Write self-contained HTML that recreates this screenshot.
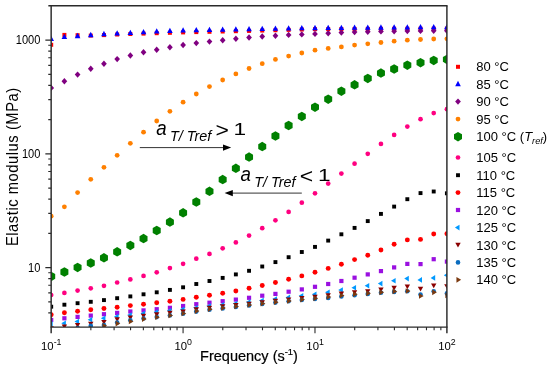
<!DOCTYPE html>
<html><head><meta charset="utf-8"><title>Elastic modulus vs frequency</title>
<style>
html,body{margin:0;padding:0;background:#fff;}
svg{display:block;}
text{font-family:"Liberation Sans",sans-serif;fill:#000;}
.tk{font-size:11.3px;}
.sup{font-size:8.8px;}
.lg{font-size:13px;}
.ax{font-size:13.6px;}
.an{font-style:italic;}
</style></head><body>
<svg width="550" height="369" viewBox="0 0 550 369">
<rect width="550" height="369" fill="#fff"/>
<defs><clipPath id="pc"><rect x="51.15" y="5.7" width="395.75" height="321.4"/></clipPath></defs>

<g clip-path="url(#pc)">
<g>
<rect x="49.2" y="42.8" width="4" height="4" fill="#ff0000"/>
<rect x="62.39" y="32.9" width="4" height="4" fill="#ff0000"/>
<rect x="75.58" y="33.2" width="4" height="4" fill="#ff0000"/>
<rect x="88.77" y="33.6" width="4" height="4" fill="#ff0000"/>
<rect x="101.96" y="33.1" width="4" height="4" fill="#ff0000"/>
<rect x="115.15" y="32.5" width="4" height="4" fill="#ff0000"/>
<rect x="128.34" y="32" width="4" height="4" fill="#ff0000"/>
<rect x="141.53" y="31.6" width="4" height="4" fill="#ff0000"/>
<rect x="154.72" y="31.2" width="4" height="4" fill="#ff0000"/>
<rect x="167.91" y="30.8" width="4" height="4" fill="#ff0000"/>
<rect x="181.1" y="30.4" width="4" height="4" fill="#ff0000"/>
<rect x="194.29" y="30.1" width="4" height="4" fill="#ff0000"/>
<rect x="207.48" y="29.8" width="4" height="4" fill="#ff0000"/>
<rect x="220.67" y="29.5" width="4" height="4" fill="#ff0000"/>
<rect x="233.86" y="29.2" width="4" height="4" fill="#ff0000"/>
<rect x="247.05" y="28.9" width="4" height="4" fill="#ff0000"/>
<rect x="260.24" y="28.56" width="4" height="4" fill="#ff0000"/>
<rect x="273.43" y="28.22" width="4" height="4" fill="#ff0000"/>
<rect x="286.62" y="27.88" width="4" height="4" fill="#ff0000"/>
<rect x="299.81" y="27.54" width="4" height="4" fill="#ff0000"/>
<rect x="313" y="27.2" width="4" height="4" fill="#ff0000"/>
<rect x="326.19" y="27.12" width="4" height="4" fill="#ff0000"/>
<rect x="339.38" y="27.04" width="4" height="4" fill="#ff0000"/>
<rect x="352.57" y="26.96" width="4" height="4" fill="#ff0000"/>
<rect x="365.76" y="26.88" width="4" height="4" fill="#ff0000"/>
<rect x="378.95" y="26.8" width="4" height="4" fill="#ff0000"/>
<rect x="392.14" y="26.76" width="4" height="4" fill="#ff0000"/>
<rect x="405.33" y="26.72" width="4" height="4" fill="#ff0000"/>
<rect x="418.52" y="26.68" width="4" height="4" fill="#ff0000"/>
<rect x="431.71" y="26.64" width="4" height="4" fill="#ff0000"/>
<rect x="444.9" y="26.6" width="4" height="4" fill="#ff0000"/>
</g>
<g>
<polygon points="51.2,84.7 54.05,87.9 51.2,91.1 48.35,87.9" fill="#800080"/>
<polygon points="64.39,78 67.24,81.2 64.39,84.4 61.54,81.2" fill="#800080"/>
<polygon points="77.58,71.4 80.43,74.6 77.58,77.8 74.73,74.6" fill="#800080"/>
<polygon points="90.77,65.6 93.62,68.8 90.77,72 87.92,68.8" fill="#800080"/>
<polygon points="103.96,60.5 106.81,63.7 103.96,66.9 101.11,63.7" fill="#800080"/>
<polygon points="117.15,55.9 120,59.1 117.15,62.3 114.3,59.1" fill="#800080"/>
<polygon points="130.34,52.3 133.19,55.5 130.34,58.7 127.49,55.5" fill="#800080"/>
<polygon points="143.53,49 146.38,52.2 143.53,55.4 140.68,52.2" fill="#800080"/>
<polygon points="156.72,46.5 159.57,49.7 156.72,52.9 153.87,49.7" fill="#800080"/>
<polygon points="169.91,44 172.76,47.2 169.91,50.4 167.06,47.2" fill="#800080"/>
<polygon points="183.1,41.8 185.95,45 183.1,48.2 180.25,45" fill="#800080"/>
<polygon points="196.29,39.9 199.14,43.1 196.29,46.3 193.44,43.1" fill="#800080"/>
<polygon points="209.48,38.4 212.33,41.6 209.48,44.8 206.63,41.6" fill="#800080"/>
<polygon points="222.67,37.1 225.52,40.3 222.67,43.5 219.82,40.3" fill="#800080"/>
<polygon points="235.86,35.6 238.71,38.8 235.86,42 233.01,38.8" fill="#800080"/>
<polygon points="249.05,34.3 251.9,37.5 249.05,40.7 246.2,37.5" fill="#800080"/>
<polygon points="262.24,33.3 265.09,36.5 262.24,39.7 259.39,36.5" fill="#800080"/>
<polygon points="275.43,32.5 278.28,35.7 275.43,38.9 272.58,35.7" fill="#800080"/>
<polygon points="288.62,31.7 291.47,34.9 288.62,38.1 285.77,34.9" fill="#800080"/>
<polygon points="301.81,31.2 304.66,34.4 301.81,37.6 298.96,34.4" fill="#800080"/>
<polygon points="315,30.7 317.85,33.9 315,37.1 312.15,33.9" fill="#800080"/>
<polygon points="328.19,30 331.04,33.2 328.19,36.4 325.34,33.2" fill="#800080"/>
<polygon points="341.38,29.4 344.23,32.6 341.38,35.8 338.53,32.6" fill="#800080"/>
<polygon points="354.57,28.9 357.42,32.1 354.57,35.3 351.72,32.1" fill="#800080"/>
<polygon points="367.76,28.5 370.61,31.7 367.76,34.9 364.91,31.7" fill="#800080"/>
<polygon points="380.95,28.2 383.8,31.4 380.95,34.6 378.1,31.4" fill="#800080"/>
<polygon points="394.14,28 396.99,31.2 394.14,34.4 391.29,31.2" fill="#800080"/>
<polygon points="407.33,27.8 410.18,31 407.33,34.2 404.48,31" fill="#800080"/>
<polygon points="420.52,27.7 423.37,30.9 420.52,34.1 417.67,30.9" fill="#800080"/>
<polygon points="433.71,27.6 436.56,30.8 433.71,34 430.86,30.8" fill="#800080"/>
<polygon points="446.9,27.5 449.75,30.7 446.9,33.9 444.05,30.7" fill="#800080"/>
</g>
<g>
<polygon points="48.4,40.95 54,40.95 51.2,35.65" fill="#0000ff"/>
<polygon points="61.59,39.05 67.19,39.05 64.39,33.75" fill="#0000ff"/>
<polygon points="74.78,38.15 80.38,38.15 77.58,32.85" fill="#0000ff"/>
<polygon points="87.97,37.15 93.57,37.15 90.77,31.85" fill="#0000ff"/>
<polygon points="101.16,36.15 106.76,36.15 103.96,30.85" fill="#0000ff"/>
<polygon points="114.35,35.45 119.95,35.45 117.15,30.15" fill="#0000ff"/>
<polygon points="127.54,34.95 133.14,34.95 130.34,29.65" fill="#0000ff"/>
<polygon points="140.73,34.25 146.33,34.25 143.53,28.95" fill="#0000ff"/>
<polygon points="153.92,33.55 159.52,33.55 156.72,28.25" fill="#0000ff"/>
<polygon points="167.11,33.05 172.71,33.05 169.91,27.75" fill="#0000ff"/>
<polygon points="180.3,32.45 185.9,32.45 183.1,27.15" fill="#0000ff"/>
<polygon points="193.49,32.25 199.09,32.25 196.29,26.95" fill="#0000ff"/>
<polygon points="206.68,31.95 212.28,31.95 209.48,26.65" fill="#0000ff"/>
<polygon points="219.87,31.75 225.47,31.75 222.67,26.45" fill="#0000ff"/>
<polygon points="233.06,31.45 238.66,31.45 235.86,26.15" fill="#0000ff"/>
<polygon points="246.25,31.25 251.85,31.25 249.05,25.95" fill="#0000ff"/>
<polygon points="259.44,30.95 265.04,30.95 262.24,25.65" fill="#0000ff"/>
<polygon points="272.63,30.75 278.23,30.75 275.43,25.45" fill="#0000ff"/>
<polygon points="285.82,30.45 291.42,30.45 288.62,25.15" fill="#0000ff"/>
<polygon points="299.01,30.35 304.61,30.35 301.81,25.05" fill="#0000ff"/>
<polygon points="312.2,30.15 317.8,30.15 315,24.85" fill="#0000ff"/>
<polygon points="325.39,30.05 330.99,30.05 328.19,24.75" fill="#0000ff"/>
<polygon points="338.58,29.95 344.18,29.95 341.38,24.65" fill="#0000ff"/>
<polygon points="351.77,29.85 357.37,29.85 354.57,24.55" fill="#0000ff"/>
<polygon points="364.96,29.75 370.56,29.75 367.76,24.45" fill="#0000ff"/>
<polygon points="378.15,29.65 383.75,29.65 380.95,24.35" fill="#0000ff"/>
<polygon points="391.34,29.55 396.94,29.55 394.14,24.25" fill="#0000ff"/>
<polygon points="404.53,29.45 410.13,29.45 407.33,24.15" fill="#0000ff"/>
<polygon points="417.72,29.35 423.32,29.35 420.52,24.05" fill="#0000ff"/>
<polygon points="430.91,29.35 436.51,29.35 433.71,24.05" fill="#0000ff"/>
<polygon points="444.1,29.25 449.7,29.25 446.9,23.95" fill="#0000ff"/>
</g>
<g>
<circle cx="51.2" cy="216.2" r="2.4" fill="#ff8000"/>
<circle cx="64.39" cy="206.8" r="2.4" fill="#ff8000"/>
<circle cx="77.58" cy="192.6" r="2.4" fill="#ff8000"/>
<circle cx="90.77" cy="179.3" r="2.4" fill="#ff8000"/>
<circle cx="103.96" cy="167.3" r="2.4" fill="#ff8000"/>
<circle cx="117.15" cy="155.3" r="2.4" fill="#ff8000"/>
<circle cx="130.34" cy="143.3" r="2.4" fill="#ff8000"/>
<circle cx="143.53" cy="132.2" r="2.4" fill="#ff8000"/>
<circle cx="156.72" cy="121" r="2.4" fill="#ff8000"/>
<circle cx="169.91" cy="111.3" r="2.4" fill="#ff8000"/>
<circle cx="183.1" cy="102.2" r="2.4" fill="#ff8000"/>
<circle cx="196.29" cy="94" r="2.4" fill="#ff8000"/>
<circle cx="209.48" cy="86.6" r="2.4" fill="#ff8000"/>
<circle cx="222.67" cy="80" r="2.4" fill="#ff8000"/>
<circle cx="235.86" cy="73.9" r="2.4" fill="#ff8000"/>
<circle cx="249.05" cy="68.5" r="2.4" fill="#ff8000"/>
<circle cx="262.24" cy="63.7" r="2.4" fill="#ff8000"/>
<circle cx="275.43" cy="59.4" r="2.4" fill="#ff8000"/>
<circle cx="288.62" cy="56.1" r="2.4" fill="#ff8000"/>
<circle cx="301.81" cy="53" r="2.4" fill="#ff8000"/>
<circle cx="315" cy="50.2" r="2.4" fill="#ff8000"/>
<circle cx="328.19" cy="48.4" r="2.4" fill="#ff8000"/>
<circle cx="341.38" cy="46.9" r="2.4" fill="#ff8000"/>
<circle cx="354.57" cy="45.1" r="2.4" fill="#ff8000"/>
<circle cx="367.76" cy="43.8" r="2.4" fill="#ff8000"/>
<circle cx="380.95" cy="42.5" r="2.4" fill="#ff8000"/>
<circle cx="394.14" cy="41.2" r="2.4" fill="#ff8000"/>
<circle cx="407.33" cy="40.2" r="2.4" fill="#ff8000"/>
<circle cx="420.52" cy="39.5" r="2.4" fill="#ff8000"/>
<circle cx="433.71" cy="39" r="2.4" fill="#ff8000"/>
<circle cx="446.9" cy="38.8" r="2.4" fill="#ff8000"/>
</g>
<g>
<polygon points="51.2,271.65 55.2,274.02 55.2,278.77 51.2,281.15 47.2,278.77 47.2,274.02" fill="#008000"/>
<polygon points="64.39,267.25 68.39,269.62 68.39,274.38 64.39,276.75 60.39,274.38 60.39,269.62" fill="#008000"/>
<polygon points="77.58,262.65 81.58,265.02 81.58,269.77 77.58,272.15 73.58,269.77 73.58,265.02" fill="#008000"/>
<polygon points="90.77,258.25 94.77,260.62 94.77,265.38 90.77,267.75 86.77,265.38 86.77,260.62" fill="#008000"/>
<polygon points="103.96,253.05 107.96,255.43 107.96,260.18 103.96,262.55 99.96,260.18 99.96,255.43" fill="#008000"/>
<polygon points="117.15,247.05 121.15,249.43 121.15,254.18 117.15,256.55 113.15,254.18 113.15,249.43" fill="#008000"/>
<polygon points="130.34,240.65 134.34,243.03 134.34,247.78 130.34,250.15 126.34,247.78 126.34,243.03" fill="#008000"/>
<polygon points="143.53,233.85 147.53,236.22 147.53,240.97 143.53,243.35 139.53,240.97 139.53,236.22" fill="#008000"/>
<polygon points="156.72,225.75 160.72,228.12 160.72,232.88 156.72,235.25 152.72,232.88 152.72,228.12" fill="#008000"/>
<polygon points="169.91,217.35 173.91,219.72 173.91,224.47 169.91,226.85 165.91,224.47 165.91,219.72" fill="#008000"/>
<polygon points="183.1,208.05 187.1,210.43 187.1,215.18 183.1,217.55 179.1,215.18 179.1,210.43" fill="#008000"/>
<polygon points="196.29,197.25 200.29,199.62 200.29,204.38 196.29,206.75 192.29,204.38 192.29,199.62" fill="#008000"/>
<polygon points="209.48,186.55 213.48,188.93 213.48,193.68 209.48,196.05 205.48,193.68 205.48,188.93" fill="#008000"/>
<polygon points="222.67,174.85 226.67,177.22 226.67,181.97 222.67,184.35 218.67,181.97 218.67,177.22" fill="#008000"/>
<polygon points="235.86,163.55 239.86,165.93 239.86,170.68 235.86,173.05 231.86,170.68 231.86,165.93" fill="#008000"/>
<polygon points="249.05,152.35 253.05,154.72 253.05,159.47 249.05,161.85 245.05,159.47 245.05,154.72" fill="#008000"/>
<polygon points="262.24,141.85 266.24,144.22 266.24,148.97 262.24,151.35 258.24,148.97 258.24,144.22" fill="#008000"/>
<polygon points="275.43,131.25 279.43,133.62 279.43,138.38 275.43,140.75 271.43,138.38 271.43,133.62" fill="#008000"/>
<polygon points="288.62,120.75 292.62,123.12 292.62,127.88 288.62,130.25 284.62,127.88 284.62,123.12" fill="#008000"/>
<polygon points="301.81,111.65 305.81,114.03 305.81,118.78 301.81,121.15 297.81,118.78 297.81,114.03" fill="#008000"/>
<polygon points="315,102.45 319,104.83 319,109.58 315,111.95 311,109.58 311,104.83" fill="#008000"/>
<polygon points="328.19,94.45 332.19,96.83 332.19,101.58 328.19,103.95 324.19,101.58 324.19,96.83" fill="#008000"/>
<polygon points="341.38,86.45 345.38,88.83 345.38,93.58 341.38,95.95 337.38,93.58 337.38,88.83" fill="#008000"/>
<polygon points="354.57,80.05 358.57,82.42 358.57,87.17 354.57,89.55 350.57,87.17 350.57,82.42" fill="#008000"/>
<polygon points="367.76,73.65 371.76,76.03 371.76,80.78 367.76,83.15 363.76,80.78 363.76,76.03" fill="#008000"/>
<polygon points="380.95,68.35 384.95,70.72 384.95,75.47 380.95,77.85 376.95,75.47 376.95,70.72" fill="#008000"/>
<polygon points="394.14,64.25 398.14,66.62 398.14,71.38 394.14,73.75 390.14,71.38 390.14,66.62" fill="#008000"/>
<polygon points="407.33,60.45 411.33,62.83 411.33,67.58 407.33,69.95 403.33,67.58 403.33,62.83" fill="#008000"/>
<polygon points="420.52,57.95 424.52,60.33 424.52,65.08 420.52,67.45 416.52,65.08 416.52,60.33" fill="#008000"/>
<polygon points="433.71,55.65 437.71,58.02 437.71,62.77 433.71,65.15 429.71,62.77 429.71,58.02" fill="#008000"/>
<polygon points="446.9,54.65 450.9,57.02 450.9,61.77 446.9,64.15 442.9,61.77 442.9,57.02" fill="#008000"/>
</g>
<g>
<circle cx="51.2" cy="295" r="2.35" fill="#ff0080"/>
<circle cx="64.39" cy="292.9" r="2.35" fill="#ff0080"/>
<circle cx="77.58" cy="290.6" r="2.35" fill="#ff0080"/>
<circle cx="90.77" cy="288.3" r="2.35" fill="#ff0080"/>
<circle cx="103.96" cy="285.8" r="2.35" fill="#ff0080"/>
<circle cx="117.15" cy="282.5" r="2.35" fill="#ff0080"/>
<circle cx="130.34" cy="279.4" r="2.35" fill="#ff0080"/>
<circle cx="143.53" cy="275.9" r="2.35" fill="#ff0080"/>
<circle cx="156.72" cy="272.3" r="2.35" fill="#ff0080"/>
<circle cx="169.91" cy="268.1" r="2.35" fill="#ff0080"/>
<circle cx="183.1" cy="263.8" r="2.35" fill="#ff0080"/>
<circle cx="196.29" cy="258.7" r="2.35" fill="#ff0080"/>
<circle cx="209.48" cy="253.9" r="2.35" fill="#ff0080"/>
<circle cx="222.67" cy="248.3" r="2.35" fill="#ff0080"/>
<circle cx="235.86" cy="242.4" r="2.35" fill="#ff0080"/>
<circle cx="249.05" cy="235.6" r="2.35" fill="#ff0080"/>
<circle cx="262.24" cy="228.2" r="2.35" fill="#ff0080"/>
<circle cx="275.43" cy="220.3" r="2.35" fill="#ff0080"/>
<circle cx="288.62" cy="211.9" r="2.35" fill="#ff0080"/>
<circle cx="301.81" cy="202.7" r="2.35" fill="#ff0080"/>
<circle cx="315" cy="193.3" r="2.35" fill="#ff0080"/>
<circle cx="328.19" cy="183.6" r="2.35" fill="#ff0080"/>
<circle cx="341.38" cy="173.6" r="2.35" fill="#ff0080"/>
<circle cx="354.57" cy="163.7" r="2.35" fill="#ff0080"/>
<circle cx="367.76" cy="153.8" r="2.35" fill="#ff0080"/>
<circle cx="380.95" cy="143.9" r="2.35" fill="#ff0080"/>
<circle cx="394.14" cy="134.9" r="2.35" fill="#ff0080"/>
<circle cx="407.33" cy="126.6" r="2.35" fill="#ff0080"/>
<circle cx="420.52" cy="119.2" r="2.35" fill="#ff0080"/>
<circle cx="433.71" cy="113.1" r="2.35" fill="#ff0080"/>
<circle cx="446.9" cy="109.2" r="2.35" fill="#ff0080"/>
</g>
<g>
<rect x="49.25" y="304.75" width="3.9" height="3.9" fill="#000000"/>
<rect x="62.44" y="302.75" width="3.9" height="3.9" fill="#000000"/>
<rect x="75.63" y="301.25" width="3.9" height="3.9" fill="#000000"/>
<rect x="88.82" y="299.85" width="3.9" height="3.9" fill="#000000"/>
<rect x="102.01" y="298.15" width="3.9" height="3.9" fill="#000000"/>
<rect x="115.2" y="296.25" width="3.9" height="3.9" fill="#000000"/>
<rect x="128.39" y="294.45" width="3.9" height="3.9" fill="#000000"/>
<rect x="141.58" y="292.35" width="3.9" height="3.9" fill="#000000"/>
<rect x="154.77" y="290.35" width="3.9" height="3.9" fill="#000000"/>
<rect x="167.96" y="287.95" width="3.9" height="3.9" fill="#000000"/>
<rect x="181.15" y="285.35" width="3.9" height="3.9" fill="#000000"/>
<rect x="194.34" y="282.05" width="3.9" height="3.9" fill="#000000"/>
<rect x="207.53" y="279.05" width="3.9" height="3.9" fill="#000000"/>
<rect x="220.72" y="275.95" width="3.9" height="3.9" fill="#000000"/>
<rect x="233.91" y="272.45" width="3.9" height="3.9" fill="#000000"/>
<rect x="247.1" y="268.85" width="3.9" height="3.9" fill="#000000"/>
<rect x="260.29" y="264.55" width="3.9" height="3.9" fill="#000000"/>
<rect x="273.48" y="260.15" width="3.9" height="3.9" fill="#000000"/>
<rect x="286.67" y="255.25" width="3.9" height="3.9" fill="#000000"/>
<rect x="299.86" y="250.05" width="3.9" height="3.9" fill="#000000"/>
<rect x="313.05" y="244.95" width="3.9" height="3.9" fill="#000000"/>
<rect x="326.24" y="238.65" width="3.9" height="3.9" fill="#000000"/>
<rect x="339.43" y="232.35" width="3.9" height="3.9" fill="#000000"/>
<rect x="352.62" y="225.95" width="3.9" height="3.9" fill="#000000"/>
<rect x="365.81" y="219.15" width="3.9" height="3.9" fill="#000000"/>
<rect x="379" y="211.95" width="3.9" height="3.9" fill="#000000"/>
<rect x="392.19" y="204.65" width="3.9" height="3.9" fill="#000000"/>
<rect x="405.38" y="197.25" width="3.9" height="3.9" fill="#000000"/>
<rect x="418.57" y="191.15" width="3.9" height="3.9" fill="#000000"/>
<rect x="431.76" y="189.55" width="3.9" height="3.9" fill="#000000"/>
<rect x="444.95" y="191.35" width="3.9" height="3.9" fill="#000000"/>
</g>
<g>
<circle cx="51.2" cy="314.7" r="2.45" fill="#ff0000"/>
<circle cx="64.39" cy="312.8" r="2.45" fill="#ff0000"/>
<circle cx="77.58" cy="311.3" r="2.45" fill="#ff0000"/>
<circle cx="90.77" cy="309.8" r="2.45" fill="#ff0000"/>
<circle cx="103.96" cy="308.5" r="2.45" fill="#ff0000"/>
<circle cx="117.15" cy="307.2" r="2.45" fill="#ff0000"/>
<circle cx="130.34" cy="305.6" r="2.45" fill="#ff0000"/>
<circle cx="143.53" cy="304.2" r="2.45" fill="#ff0000"/>
<circle cx="156.72" cy="302.7" r="2.45" fill="#ff0000"/>
<circle cx="169.91" cy="301.2" r="2.45" fill="#ff0000"/>
<circle cx="183.1" cy="299.4" r="2.45" fill="#ff0000"/>
<circle cx="196.29" cy="297.3" r="2.45" fill="#ff0000"/>
<circle cx="209.48" cy="295.3" r="2.45" fill="#ff0000"/>
<circle cx="222.67" cy="293.3" r="2.45" fill="#ff0000"/>
<circle cx="235.86" cy="291" r="2.45" fill="#ff0000"/>
<circle cx="249.05" cy="288.3" r="2.45" fill="#ff0000"/>
<circle cx="262.24" cy="285.5" r="2.45" fill="#ff0000"/>
<circle cx="275.43" cy="282.5" r="2.45" fill="#ff0000"/>
<circle cx="288.62" cy="279.2" r="2.45" fill="#ff0000"/>
<circle cx="301.81" cy="275.9" r="2.45" fill="#ff0000"/>
<circle cx="315" cy="272.3" r="2.45" fill="#ff0000"/>
<circle cx="328.19" cy="268.4" r="2.45" fill="#ff0000"/>
<circle cx="341.38" cy="264.2" r="2.45" fill="#ff0000"/>
<circle cx="354.57" cy="259.6" r="2.45" fill="#ff0000"/>
<circle cx="367.76" cy="255.3" r="2.45" fill="#ff0000"/>
<circle cx="380.95" cy="250" r="2.45" fill="#ff0000"/>
<circle cx="394.14" cy="244.3" r="2.45" fill="#ff0000"/>
<circle cx="407.33" cy="239.9" r="2.45" fill="#ff0000"/>
<circle cx="420.52" cy="239.4" r="2.45" fill="#ff0000"/>
<circle cx="433.71" cy="234" r="2.45" fill="#ff0000"/>
<circle cx="446.9" cy="233.8" r="2.45" fill="#ff0000"/>
</g>
<g>
<rect x="49.1" y="317.9" width="4.2" height="4.2" fill="#9a10e0"/>
<rect x="62.29" y="316.2" width="4.2" height="4.2" fill="#9a10e0"/>
<rect x="75.48" y="314.8" width="4.2" height="4.2" fill="#9a10e0"/>
<rect x="88.67" y="313.5" width="4.2" height="4.2" fill="#9a10e0"/>
<rect x="101.86" y="312.1" width="4.2" height="4.2" fill="#9a10e0"/>
<rect x="115.05" y="310.8" width="4.2" height="4.2" fill="#9a10e0"/>
<rect x="128.24" y="309.4" width="4.2" height="4.2" fill="#9a10e0"/>
<rect x="141.43" y="308.3" width="4.2" height="4.2" fill="#9a10e0"/>
<rect x="154.62" y="307.1" width="4.2" height="4.2" fill="#9a10e0"/>
<rect x="167.81" y="305.7" width="4.2" height="4.2" fill="#9a10e0"/>
<rect x="181" y="303.9" width="4.2" height="4.2" fill="#9a10e0"/>
<rect x="194.19" y="302.1" width="4.2" height="4.2" fill="#9a10e0"/>
<rect x="207.38" y="300.6" width="4.2" height="4.2" fill="#9a10e0"/>
<rect x="220.57" y="299.1" width="4.2" height="4.2" fill="#9a10e0"/>
<rect x="233.76" y="297.5" width="4.2" height="4.2" fill="#9a10e0"/>
<rect x="246.95" y="295.7" width="4.2" height="4.2" fill="#9a10e0"/>
<rect x="260.14" y="293.6" width="4.2" height="4.2" fill="#9a10e0"/>
<rect x="273.33" y="291.8" width="4.2" height="4.2" fill="#9a10e0"/>
<rect x="286.52" y="289.6" width="4.2" height="4.2" fill="#9a10e0"/>
<rect x="299.71" y="287.3" width="4.2" height="4.2" fill="#9a10e0"/>
<rect x="312.9" y="284.7" width="4.2" height="4.2" fill="#9a10e0"/>
<rect x="326.09" y="281.9" width="4.2" height="4.2" fill="#9a10e0"/>
<rect x="339.28" y="278.9" width="4.2" height="4.2" fill="#9a10e0"/>
<rect x="352.47" y="275.6" width="4.2" height="4.2" fill="#9a10e0"/>
<rect x="365.66" y="272.3" width="4.2" height="4.2" fill="#9a10e0"/>
<rect x="378.85" y="269" width="4.2" height="4.2" fill="#9a10e0"/>
<rect x="392.04" y="265.3" width="4.2" height="4.2" fill="#9a10e0"/>
<rect x="405.23" y="261.8" width="4.2" height="4.2" fill="#9a10e0"/>
<rect x="418.42" y="262" width="4.2" height="4.2" fill="#9a10e0"/>
<rect x="431.61" y="257.1" width="4.2" height="4.2" fill="#9a10e0"/>
<rect x="444.8" y="259.5" width="4.2" height="4.2" fill="#9a10e0"/>
</g>
<g>
<polygon points="52.7,321.2 52.7,326.8 48.1,324" fill="#0099ff"/>
<polygon points="65.89,320.5 65.89,326.1 61.29,323.3" fill="#0099ff"/>
<polygon points="79.08,318.7 79.08,324.3 74.48,321.5" fill="#0099ff"/>
<polygon points="92.27,317 92.27,322.6 87.67,319.8" fill="#0099ff"/>
<polygon points="105.46,315.5 105.46,321.1 100.86,318.3" fill="#0099ff"/>
<polygon points="118.65,313.7 118.65,319.3 114.05,316.5" fill="#0099ff"/>
<polygon points="131.84,312.2 131.84,317.8 127.24,315" fill="#0099ff"/>
<polygon points="145.03,310.8 145.03,316.4 140.43,313.6" fill="#0099ff"/>
<polygon points="158.22,309.3 158.22,314.9 153.62,312.1" fill="#0099ff"/>
<polygon points="171.41,307.9 171.41,313.5 166.81,310.7" fill="#0099ff"/>
<polygon points="184.6,306.4 184.6,312 180,309.2" fill="#0099ff"/>
<polygon points="197.79,304.9 197.79,310.5 193.19,307.7" fill="#0099ff"/>
<polygon points="210.98,303.2 210.98,308.8 206.38,306" fill="#0099ff"/>
<polygon points="224.17,301.9 224.17,307.5 219.57,304.7" fill="#0099ff"/>
<polygon points="237.36,300.7 237.36,306.3 232.76,303.5" fill="#0099ff"/>
<polygon points="250.55,299.2 250.55,304.8 245.95,302" fill="#0099ff"/>
<polygon points="263.74,297.7 263.74,303.3 259.14,300.5" fill="#0099ff"/>
<polygon points="276.93,296.2 276.93,301.8 272.33,299" fill="#0099ff"/>
<polygon points="290.12,294.6 290.12,300.2 285.52,297.4" fill="#0099ff"/>
<polygon points="303.31,293 303.31,298.6 298.71,295.8" fill="#0099ff"/>
<polygon points="316.5,291.4 316.5,297 311.9,294.2" fill="#0099ff"/>
<polygon points="329.69,289.4 329.69,295 325.09,292.2" fill="#0099ff"/>
<polygon points="342.88,287.3 342.88,292.9 338.28,290.1" fill="#0099ff"/>
<polygon points="356.07,285 356.07,290.6 351.47,287.8" fill="#0099ff"/>
<polygon points="369.26,283 369.26,288.6 364.66,285.8" fill="#0099ff"/>
<polygon points="382.45,280.8 382.45,286.4 377.85,283.6" fill="#0099ff"/>
<polygon points="395.64,278 395.64,283.6 391.04,280.8" fill="#0099ff"/>
<polygon points="408.83,275.8 408.83,281.4 404.23,278.6" fill="#0099ff"/>
<polygon points="422.02,277.1 422.02,282.7 417.42,279.9" fill="#0099ff"/>
<polygon points="435.21,275.1 435.21,280.7 430.61,277.9" fill="#0099ff"/>
<polygon points="448.4,272.5 448.4,278.1 443.8,275.3" fill="#0099ff"/>
</g>
<g>
<polygon points="48.5,326.15 53.9,326.15 51.2,330.85" fill="#8b0000"/>
<polygon points="61.69,324.45 67.09,324.45 64.39,329.15" fill="#8b0000"/>
<polygon points="74.88,322.95 80.28,322.95 77.58,327.65" fill="#8b0000"/>
<polygon points="88.07,321.85 93.47,321.85 90.77,326.55" fill="#8b0000"/>
<polygon points="101.26,319.95 106.66,319.95 103.96,324.65" fill="#8b0000"/>
<polygon points="114.45,317.35 119.85,317.35 117.15,322.05" fill="#8b0000"/>
<polygon points="127.64,315.45 133.04,315.45 130.34,320.15" fill="#8b0000"/>
<polygon points="140.83,313.85 146.23,313.85 143.53,318.55" fill="#8b0000"/>
<polygon points="154.02,312.25 159.42,312.25 156.72,316.95" fill="#8b0000"/>
<polygon points="167.21,310.85 172.61,310.85 169.91,315.55" fill="#8b0000"/>
<polygon points="180.4,309.45 185.8,309.45 183.1,314.15" fill="#8b0000"/>
<polygon points="193.59,307.25 198.99,307.25 196.29,311.95" fill="#8b0000"/>
<polygon points="206.78,305.65 212.18,305.65 209.48,310.35" fill="#8b0000"/>
<polygon points="219.97,304.25 225.37,304.25 222.67,308.95" fill="#8b0000"/>
<polygon points="233.16,302.95 238.56,302.95 235.86,307.65" fill="#8b0000"/>
<polygon points="246.35,301.65 251.75,301.65 249.05,306.35" fill="#8b0000"/>
<polygon points="259.54,300.25 264.94,300.25 262.24,304.95" fill="#8b0000"/>
<polygon points="272.73,298.85 278.13,298.85 275.43,303.55" fill="#8b0000"/>
<polygon points="285.92,297.45 291.32,297.45 288.62,302.15" fill="#8b0000"/>
<polygon points="299.11,296.05 304.51,296.05 301.81,300.75" fill="#8b0000"/>
<polygon points="312.3,294.65 317.7,294.65 315,299.35" fill="#8b0000"/>
<polygon points="325.49,293.15 330.89,293.15 328.19,297.85" fill="#8b0000"/>
<polygon points="338.68,291.55 344.08,291.55 341.38,296.25" fill="#8b0000"/>
<polygon points="351.87,290.35 357.27,290.35 354.57,295.05" fill="#8b0000"/>
<polygon points="365.06,289.25 370.46,289.25 367.76,293.95" fill="#8b0000"/>
<polygon points="378.25,287.45 383.65,287.45 380.95,292.15" fill="#8b0000"/>
<polygon points="391.44,285.85 396.84,285.85 394.14,290.55" fill="#8b0000"/>
<polygon points="404.63,284.45 410.03,284.45 407.33,289.15" fill="#8b0000"/>
<polygon points="417.82,286.85 423.22,286.85 420.52,291.55" fill="#8b0000"/>
<polygon points="431.01,283.45 436.41,283.45 433.71,288.15" fill="#8b0000"/>
<polygon points="444.2,284.15 449.6,284.15 446.9,288.85" fill="#8b0000"/>
</g>
<g>
<circle cx="51.2" cy="332" r="2.3" fill="#0a6cbf"/>
<circle cx="64.39" cy="330" r="2.3" fill="#0a6cbf"/>
<circle cx="77.58" cy="328" r="2.3" fill="#0a6cbf"/>
<circle cx="90.77" cy="325.8" r="2.3" fill="#0a6cbf"/>
<circle cx="103.96" cy="325" r="2.3" fill="#0a6cbf"/>
<circle cx="117.15" cy="322.6" r="2.3" fill="#0a6cbf"/>
<circle cx="130.34" cy="320.2" r="2.3" fill="#0a6cbf"/>
<circle cx="143.53" cy="318.5" r="2.3" fill="#0a6cbf"/>
<circle cx="156.72" cy="317.1" r="2.3" fill="#0a6cbf"/>
<circle cx="169.91" cy="315.5" r="2.3" fill="#0a6cbf"/>
<circle cx="183.1" cy="313.8" r="2.3" fill="#0a6cbf"/>
<circle cx="196.29" cy="311.6" r="2.3" fill="#0a6cbf"/>
<circle cx="209.48" cy="309.8" r="2.3" fill="#0a6cbf"/>
<circle cx="222.67" cy="308.4" r="2.3" fill="#0a6cbf"/>
<circle cx="235.86" cy="307" r="2.3" fill="#0a6cbf"/>
<circle cx="249.05" cy="305.4" r="2.3" fill="#0a6cbf"/>
<circle cx="262.24" cy="304" r="2.3" fill="#0a6cbf"/>
<circle cx="275.43" cy="302.6" r="2.3" fill="#0a6cbf"/>
<circle cx="288.62" cy="301.3" r="2.3" fill="#0a6cbf"/>
<circle cx="301.81" cy="300" r="2.3" fill="#0a6cbf"/>
<circle cx="315" cy="299" r="2.3" fill="#0a6cbf"/>
<circle cx="328.19" cy="298" r="2.3" fill="#0a6cbf"/>
<circle cx="341.38" cy="296.5" r="2.3" fill="#0a6cbf"/>
<circle cx="354.57" cy="295.2" r="2.3" fill="#0a6cbf"/>
<circle cx="367.76" cy="293.9" r="2.3" fill="#0a6cbf"/>
<circle cx="380.95" cy="292.8" r="2.3" fill="#0a6cbf"/>
<circle cx="394.14" cy="291.9" r="2.3" fill="#0a6cbf"/>
<circle cx="407.33" cy="291.2" r="2.3" fill="#0a6cbf"/>
<circle cx="420.52" cy="294.5" r="2.3" fill="#0a6cbf"/>
<circle cx="433.71" cy="291.2" r="2.3" fill="#0a6cbf"/>
<circle cx="446.9" cy="293.4" r="2.3" fill="#0a6cbf"/>
</g>
<g>
<polygon points="49.65,330.15 49.65,335.85 54.35,333" fill="#7b3a10"/>
<polygon points="62.84,328.15 62.84,333.85 67.54,331" fill="#7b3a10"/>
<polygon points="76.03,326.15 76.03,331.85 80.73,329" fill="#7b3a10"/>
<polygon points="89.22,325.65 89.22,331.35 93.92,328.5" fill="#7b3a10"/>
<polygon points="102.41,322.95 102.41,328.65 107.11,325.8" fill="#7b3a10"/>
<polygon points="115.6,320.75 115.6,326.45 120.3,323.6" fill="#7b3a10"/>
<polygon points="128.79,318.55 128.79,324.25 133.49,321.4" fill="#7b3a10"/>
<polygon points="141.98,316.25 141.98,321.95 146.68,319.1" fill="#7b3a10"/>
<polygon points="155.17,314.35 155.17,320.05 159.87,317.2" fill="#7b3a10"/>
<polygon points="168.36,312.65 168.36,318.35 173.06,315.5" fill="#7b3a10"/>
<polygon points="181.55,310.65 181.55,316.35 186.25,313.5" fill="#7b3a10"/>
<polygon points="194.74,308.25 194.74,313.95 199.44,311.1" fill="#7b3a10"/>
<polygon points="207.93,306.35 207.93,312.05 212.63,309.2" fill="#7b3a10"/>
<polygon points="221.12,305.05 221.12,310.75 225.82,307.9" fill="#7b3a10"/>
<polygon points="234.31,303.55 234.31,309.25 239.01,306.4" fill="#7b3a10"/>
<polygon points="247.5,302.05 247.5,307.75 252.2,304.9" fill="#7b3a10"/>
<polygon points="260.69,300.75 260.69,306.45 265.39,303.6" fill="#7b3a10"/>
<polygon points="273.88,299.35 273.88,305.05 278.58,302.2" fill="#7b3a10"/>
<polygon points="287.07,298.05 287.07,303.75 291.77,300.9" fill="#7b3a10"/>
<polygon points="300.26,296.75 300.26,302.45 304.96,299.6" fill="#7b3a10"/>
<polygon points="313.45,295.45 313.45,301.15 318.15,298.3" fill="#7b3a10"/>
<polygon points="326.64,294.15 326.64,299.85 331.34,297" fill="#7b3a10"/>
<polygon points="339.83,292.65 339.83,298.35 344.53,295.5" fill="#7b3a10"/>
<polygon points="353.02,291.35 353.02,297.05 357.72,294.2" fill="#7b3a10"/>
<polygon points="366.21,290.45 366.21,296.15 370.91,293.3" fill="#7b3a10"/>
<polygon points="379.4,289.45 379.4,295.15 384.1,292.3" fill="#7b3a10"/>
<polygon points="392.59,288.55 392.59,294.25 397.29,291.4" fill="#7b3a10"/>
<polygon points="405.78,288.15 405.78,293.85 410.48,291" fill="#7b3a10"/>
<polygon points="418.97,293.15 418.97,298.85 423.67,296" fill="#7b3a10"/>
<polygon points="432.16,289.45 432.16,295.15 436.86,292.3" fill="#7b3a10"/>
<polygon points="445.35,292.65 445.35,298.35 450.05,295.5" fill="#7b3a10"/>
</g>
</g>
<g stroke="#2a2a2a" stroke-width="1.45" fill="none">
<path d="M48.35 5.7H447.55"/>
<path d="M51.15 5.7V333.3"/>
<path d="M50.5 327.1H447.55"/>
<path d="M446.9 5.7V333.3"/>
</g>
<g stroke="#2a2a2a" stroke-width="1.1" fill="none">
<path d="M90.86 327.1v3.2M114.09 327.1v3.2M130.57 327.1v3.2M143.36 327.1v3.2M153.8 327.1v3.2M162.63 327.1v3.2M170.28 327.1v3.2M177.03 327.1v3.2M183.07 327.1v6.2M222.78 327.1v3.2M246.01 327.1v3.2M262.49 327.1v3.2M275.27 327.1v3.2M285.72 327.1v3.2M294.55 327.1v3.2M302.2 327.1v3.2M308.95 327.1v3.2M314.98 327.1v6.2M354.69 327.1v3.2M377.92 327.1v3.2M394.41 327.1v3.2M407.19 327.1v3.2M417.63 327.1v3.2M426.47 327.1v3.2M434.12 327.1v3.2M440.86 327.1v3.2M51.15 312.87h-2.9M51.15 301.84h-2.9M51.15 292.84h-2.9M51.15 285.22h-2.9M51.15 278.62h-2.9M51.15 272.8h-2.9M51.15 267.6h-5.8M51.15 233.36h-2.9M51.15 213.33h-2.9M51.15 199.12h-2.9M51.15 188.09h-2.9M51.15 179.09h-2.9M51.15 171.47h-2.9M51.15 164.87h-2.9M51.15 159.05h-2.9M51.15 153.85h-5.8M51.15 119.61h-2.9M51.15 99.58h-2.9M51.15 85.37h-2.9M51.15 74.34h-2.9M51.15 65.34h-2.9M51.15 57.72h-2.9M51.15 51.12h-2.9M51.15 45.3h-2.9M51.15 40.1h-5.8"/></g>
<text font-size="11.1px" transform="translate(40.4 44) scale(1 1.07)" text-anchor="end">1000</text>
<text font-size="11.1px" transform="translate(40.4 157.75) scale(1 1.07)" text-anchor="end">100</text>
<text font-size="11.1px" transform="translate(40.4 271.5) scale(1 1.07)" text-anchor="end">10</text>
<text class="tk" x="41.05" y="350.2">10<tspan class="sup" dy="-4.8">-1</tspan></text>
<text class="tk" x="174.43" y="350.2">10<tspan class="sup" dy="-4.8">0</tspan></text>
<text class="tk" x="306.35" y="350.2">10<tspan class="sup" dy="-4.8">1</tspan></text>
<text class="tk" x="438.26" y="350.2">10<tspan class="sup" dy="-4.8">2</tspan></text>
<text x="200.1" y="361.2" font-size="14.5px" stroke="#000" stroke-width="0.2">Frequency (s<tspan font-size="9.4px" dy="-6">-1</tspan><tspan dy="6">)</tspan></text>
<text font-size="14.7px" letter-spacing="0.57" transform="translate(18.4 246.1) rotate(-90) scale(1 1.06)">Elastic modulus (MPa)</text>
<rect x="456" y="64.8" width="4" height="4" fill="#ff0000"/>
<text class="lg" x="476.3" y="71.3">80 °C</text>
<polygon points="455.2,86.15 460.8,86.15 458,80.85" fill="#0000ff"/>
<text class="lg" x="476.3" y="88.6">85 °C</text>
<polygon points="458,98.4 460.85,101.6 458,104.8 455.15,101.6" fill="#800080"/>
<text class="lg" x="476.3" y="106.1">90 °C</text>
<circle cx="458" cy="119.1" r="2.4" fill="#ff8000"/>
<text class="lg" x="476.3" y="123.6">95 °C</text>
<polygon points="458,131.95 462,134.32 462,139.07 458,141.45 454,139.07 454,134.32" fill="#008000"/>
<text class="lg" x="476.3" y="141.2">100 °C (<tspan font-style="italic">T</tspan><tspan font-style="italic" font-size="9.2px" dy="3">ref</tspan><tspan dy="-3">)</tspan></text>
<circle cx="458" cy="157.5" r="2.35" fill="#ff0080"/>
<text class="lg" x="476.3" y="162">105 °C</text>
<rect x="456.05" y="173.25" width="3.9" height="3.9" fill="#000000"/>
<text class="lg" x="476.3" y="179.7">110 °C</text>
<circle cx="458" cy="192.6" r="2.45" fill="#ff0000"/>
<text class="lg" x="476.3" y="197.1">115 °C</text>
<rect x="455.9" y="207.9" width="4.2" height="4.2" fill="#9a10e0"/>
<text class="lg" x="476.3" y="214.5">120 °C</text>
<polygon points="459.5,224.8 459.5,230.4 454.9,227.6" fill="#0099ff"/>
<text class="lg" x="476.3" y="232.1">125 °C</text>
<polygon points="455.3,242.75 460.7,242.75 458,247.45" fill="#8b0000"/>
<text class="lg" x="476.3" y="249.6">130 °C</text>
<circle cx="458" cy="262.4" r="2.3" fill="#0a6cbf"/>
<text class="lg" x="476.3" y="266.9">135 °C</text>
<polygon points="456.45,276.95 456.45,282.65 461.15,279.8" fill="#7b3a10"/>
<text class="lg" x="476.3" y="284.3">140 °C</text>
<text class="an" x="156.3" y="134.5" font-size="20.5px" textLength="10.4" lengthAdjust="spacingAndGlyphs">a</text>
<text class="an" x="170" y="140.7" font-size="13.8px" textLength="41.3" lengthAdjust="spacingAndGlyphs">T/ Tref</text>
<text x="215.4" y="137.4" font-size="21px" textLength="13.4" lengthAdjust="spacingAndGlyphs">&gt;</text>
<text x="233.6" y="134.7" font-size="16.6px" textLength="12.6" lengthAdjust="spacingAndGlyphs">1</text>
<text class="an" x="240.6" y="180.5" font-size="20.5px" textLength="10.4" lengthAdjust="spacingAndGlyphs">a</text>
<text class="an" x="254.3" y="186.7" font-size="13.8px" textLength="41.3" lengthAdjust="spacingAndGlyphs">T/ Tref</text>
<text x="299.7" y="183.4" font-size="21px" textLength="13.4" lengthAdjust="spacingAndGlyphs">&lt;</text>
<text x="317.9" y="180.7" font-size="16.6px" textLength="12.6" lengthAdjust="spacingAndGlyphs">1</text>
<g stroke="#333" stroke-width="1" fill="#000">
<path d="M139.8 147.6H225" fill="none"/><path d="M231.2 147.6l-8.2 -3.1v6.2z" stroke="none"/>
<path d="M301.8 193.1H231" fill="none"/><path d="M224.6 193.1l8.2 -3.1v6.2z" stroke="none"/>
</g>
</svg></body></html>
